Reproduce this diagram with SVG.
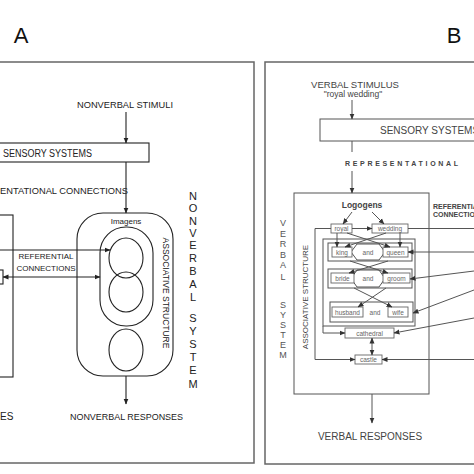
<svg xmlns="http://www.w3.org/2000/svg" width="474" height="474" viewBox="0 0 474 474">
<defs>
<marker id="ah" markerWidth="6" markerHeight="6" refX="5.5" refY="3" orient="auto" markerUnits="userSpaceOnUse"><path d="M0,0.5 L6,3 L0,5.5 Z" fill="#222"/></marker>
<marker id="ahs" markerWidth="6" markerHeight="6" refX="0.5" refY="3" orient="auto" markerUnits="userSpaceOnUse"><path d="M6,0.5 L0,3 L6,5.5 Z" fill="#222"/></marker>
<marker id="bh" markerWidth="6" markerHeight="6" refX="5.5" refY="3" orient="auto" markerUnits="userSpaceOnUse"><path d="M0,0.5 L6,3 L0,5.5 Z" fill="#333"/></marker>
<marker id="bhs" markerWidth="6" markerHeight="6" refX="0.5" refY="3" orient="auto" markerUnits="userSpaceOnUse"><path d="M6,0.5 L0,3 L6,5.5 Z" fill="#333"/></marker>
</defs>
<style>
.frame{fill:none;stroke:#666;stroke-width:1.5}
.la{fill:none;stroke:#222;stroke-width:1.1}
.lb{fill:none;stroke:#555;stroke-width:1}
.ta{font-family:"Liberation Sans",Arial,sans-serif;fill:#222}
.tb{font-family:"Liberation Sans",Arial,sans-serif;fill:#444}
.wb{fill:#fff;stroke:#666;stroke-width:0.9}
.wt{font-family:"Liberation Sans",Arial,sans-serif;font-size:6.5px;fill:#666;text-anchor:middle}
.big{font-family:"Liberation Sans",Arial,sans-serif;font-size:22px;fill:#111;text-anchor:middle}
.vl{font-family:"Liberation Sans",Arial,sans-serif;font-size:11px;fill:#222;text-anchor:middle}
.vb{font-family:"Liberation Sans",Arial,sans-serif;font-size:9px;fill:#555;text-anchor:middle}
</style>
<rect width="474" height="474" fill="#fff"/>

<!-- Panel labels -->
<text class="big" x="21" y="43">A</text>
<text class="big" x="454" y="43">B</text>

<!-- Panel A -->
<g id="panelA">
<rect class="frame" x="-5" y="62" width="259" height="401"/>
</g>
<g id="a-stimuli"><text class="ta" x="77" y="108" font-size="9.5" textLength="96" lengthAdjust="spacingAndGlyphs">NONVERBAL STIMULI</text></g>
<g id="a-sensory">
<rect class="la" x="-5" y="143" width="154" height="19" fill="#fff"/>
<text class="ta" x="3" y="157" font-size="10" textLength="89" lengthAdjust="spacingAndGlyphs">SENSORY SYSTEMS</text>
</g>
<g id="a-repconn"><text class="ta" x="0" y="194" font-size="9" textLength="128" lengthAdjust="spacingAndGlyphs">ENTATIONAL CONNECTIONS</text></g>
<g id="a-verbal">
<rect class="la" x="-5" y="215" width="18" height="162" fill="none"/>
<rect class="la" x="-5" y="270" width="8" height="14" fill="#fff"/>
<text class="ta" x="0" y="420" font-size="10">ES</text>
</g>
<g id="a-nonverbal">
<rect class="la" x="77" y="213" width="96" height="163" rx="26"/>
<text class="ta" x="126" y="224" font-size="8" text-anchor="middle">Imagens</text>
<rect class="la" x="100" y="227" width="53" height="99" rx="26"/>
<ellipse class="la" cx="126" cy="258" rx="17" ry="20"/>
<ellipse class="la" cx="126" cy="292" rx="17" ry="20"/>
<ellipse class="la" cx="126" cy="350" rx="17" ry="21"/>
<text class="ta" font-size="8.5" text-anchor="middle" transform="translate(163,293) rotate(90)">ASSOCIATIVE STRUCTURE</text>
</g>
<g id="a-refconn">
<text class="ta" x="46" y="259" font-size="8" text-anchor="middle">REFERENTIAL</text>
<text class="ta" x="46" y="271" font-size="8" text-anchor="middle">CONNECTIONS</text>
</g>
<g id="a-nvsystem">
<text class="vl" x="193" y="200">N</text>
<text class="vl" x="193" y="212">O</text>
<text class="vl" x="193" y="225">N</text>
<text class="vl" x="193" y="237">V</text>
<text class="vl" x="193" y="249">E</text>
<text class="vl" x="193" y="262">R</text>
<text class="vl" x="193" y="275">B</text>
<text class="vl" x="193" y="288">A</text>
<text class="vl" x="193" y="301">L</text>
<text class="vl" x="193" y="322">S</text>
<text class="vl" x="193" y="335">Y</text>
<text class="vl" x="193" y="348">S</text>
<text class="vl" x="193" y="361">T</text>
<text class="vl" x="193" y="374">E</text>
<text class="vl" x="193" y="388">M</text>
</g>
<g id="a-responses"><text class="ta" x="70" y="420" font-size="9.5" textLength="113" lengthAdjust="spacingAndGlyphs">NONVERBAL RESPONSES</text></g>

<g id="a-connectors">
<line class="la" x1="126" y1="112" x2="126" y2="143" marker-end="url(#ah)"/>
<line class="la" x1="126" y1="162" x2="126" y2="213" marker-end="url(#ah)"/>
<line class="la" x1="0" y1="250" x2="110" y2="250" marker-end="url(#ah)"/>
<line class="la" x1="3" y1="277" x2="100" y2="277" marker-start="url(#ahs)" marker-end="url(#ah)"/>
<line class="la" x1="126" y1="376" x2="126" y2="404" marker-end="url(#ah)"/>
</g>

<!-- Panel B -->
<g id="panelB">
<rect class="frame" x="265" y="62" width="215" height="402"/>
</g>
<g id="b-stimulus">
<text class="tb" x="355" y="88" font-size="9.5" text-anchor="middle">VERBAL STIMULUS</text>
<text class="tb" x="353" y="97" font-size="8.5" text-anchor="middle">"royal wedding"</text>
</g>
<g id="b-sensory">
<rect class="lb" x="320" y="119" width="160" height="22" fill="#fff"/>
<text class="tb" x="380" y="134" font-size="10">SENSORY SYSTEMS</text>
</g>
<g id="b-rep"><text class="tb" x="345" y="166" font-size="7" font-weight="bold" textLength="113" lengthAdjust="spacing">REPRESENTATIONAL</text></g>
<g id="b-verbal">
<rect class="lb" x="294" y="193" width="135" height="201"/>
<text class="tb" x="362" y="208" font-size="8.5" font-weight="bold" text-anchor="middle">Logogens</text>
<text class="tb" font-size="8" text-anchor="middle" transform="translate(308,297) rotate(-90)">ASSOCIATIVE STRUCTURE</text>
<rect class="lb" x="323" y="239" width="92" height="87"/>
</g>
<g id="b-vsystem">
<text class="vb" x="283" y="226">V</text>
<text class="vb" x="283" y="237">E</text>
<text class="vb" x="283" y="247">R</text>
<text class="vb" x="283" y="258">B</text>
<text class="vb" x="283" y="268">A</text>
<text class="vb" x="283" y="280">L</text>
<text class="vb" x="283" y="308">S</text>
<text class="vb" x="283" y="318">Y</text>
<text class="vb" x="283" y="328">S</text>
<text class="vb" x="283" y="338">T</text>
<text class="vb" x="283" y="348">E</text>
<text class="vb" x="283" y="358">M</text>
</g>
<g id="b-royal"><rect class="wb" x="331" y="224" width="21" height="9"/><text class="wt" x="341.5" y="231">royal</text></g>
<g id="b-wedding"><rect class="wb" x="372" y="224" width="36" height="9"/><text class="wt" x="390" y="231">wedding</text></g>
<g id="b-row1">
<rect class="lb" x="328" y="243" width="84" height="18" fill="#fff"/>
<path class="lb" d="M357,244 L379,244 L385,252 L379,260 L357,260 L351,252 Z" fill="#fff"/>
<text class="wt" x="368" y="254.5">and</text>
<rect class="wb" x="332" y="247" width="20" height="10"/><text class="wt" x="342" y="254.5">king</text>
<rect class="wb" x="383" y="247" width="25" height="10"/><text class="wt" x="395.5" y="254.5">queen</text>
</g>
<g id="b-row2">
<rect class="lb" x="328" y="269" width="84" height="19" fill="#fff"/>
<path class="lb" d="M357,270 L379,270 L385,278.5 L379,287 L357,287 L351,278.5 Z" fill="#fff"/>
<text class="wt" x="368" y="281">and</text>
<rect class="wb" x="331" y="273" width="23" height="10"/><text class="wt" x="342.5" y="280.5">bride</text>
<rect class="wb" x="383" y="273" width="27" height="10"/><text class="wt" x="396.5" y="280.5">groom</text>
</g>
<g id="b-row3">
<rect class="lb" x="330" y="302" width="83" height="20" fill="#fff"/>
<text class="wt" x="375" y="314.5">and</text>
<rect class="wb" x="332" y="307" width="31" height="10"/><text class="wt" x="347.5" y="314.5">husband</text>
<rect class="wb" x="388" y="307" width="20" height="10"/><text class="wt" x="398" y="314.5">wife</text>
</g>
<g id="b-cathedral"><rect class="wb" x="345" y="328" width="49" height="10"/><text class="wt" x="369.5" y="335.5">cathedral</text></g>
<g id="b-castle"><rect class="wb" x="355" y="355" width="27" height="9"/><text class="wt" x="368.5" y="362">castle</text></g>
<g id="b-refconn">
<text class="tb" x="433" y="209" font-size="7" font-weight="bold">REFERENTIAL</text>
<text class="tb" x="433" y="217" font-size="7" font-weight="bold">CONNECTIONS</text>
</g>
<g id="b-responses"><text class="tb" x="370" y="440" font-size="10" text-anchor="middle">VERBAL RESPONSES</text></g>

<g id="b-connectors">
<line class="lb" x1="352" y1="100" x2="352" y2="119" marker-end="url(#bh)"/>
<line class="lb" x1="352" y1="141" x2="352" y2="152"/>
<line class="lb" x1="352" y1="171" x2="352" y2="193" marker-end="url(#bh)"/>
<line class="lb" x1="372" y1="394" x2="372" y2="423" marker-end="url(#bh)"/>
<line class="lb" x1="352" y1="212" x2="343" y2="224" marker-end="url(#bh)"/>
<line class="lb" x1="372" y1="212" x2="384" y2="224" marker-end="url(#bh)"/>
<line class="lb" x1="352" y1="228.5" x2="372" y2="228.5" marker-end="url(#bh)"/>
<polyline class="lb" points="331,228.5 315,228.5 315,359.5 355,359.5" marker-end="url(#bh)"/>
<polyline class="lb" points="323,326 323,333 345,333" marker-end="url(#bh)"/>
<line class="lb" x1="337" y1="233" x2="337" y2="247" marker-end="url(#bh)"/>
<line class="lb" x1="400" y1="233" x2="400" y2="247" marker-end="url(#bh)"/>
<line class="lb" x1="347" y1="233" x2="390" y2="247" marker-end="url(#bh)"/>
<line class="lb" x1="386" y1="233" x2="345" y2="247" marker-end="url(#bh)"/>
<line class="lb" x1="350" y1="261" x2="388" y2="273" marker-end="url(#bh)"/>
<line class="lb" x1="388" y1="261" x2="349" y2="273" marker-end="url(#bh)"/>
<line class="lb" x1="354" y1="288" x2="392" y2="307" marker-end="url(#bh)"/>
<line class="lb" x1="386" y1="288" x2="358" y2="307" marker-end="url(#bh)"/>
<line class="lb" x1="372" y1="338" x2="372" y2="355" marker-start="url(#bhs)" marker-end="url(#bh)"/>
<line class="lb" x1="474" y1="228.5" x2="408" y2="228.5"/>
<line class="lb" x1="474" y1="252" x2="408" y2="252" marker-end="url(#bh)"/>
<line class="lb" x1="474" y1="271" x2="410" y2="279" marker-end="url(#bh)"/>
<line class="lb" x1="474" y1="290" x2="413" y2="313" marker-end="url(#bh)"/>
<line class="lb" x1="474" y1="318" x2="394" y2="333" marker-end="url(#bh)"/>
<line class="lb" x1="474" y1="359.5" x2="382" y2="359.5" marker-end="url(#bh)"/>
</g>
</svg>
